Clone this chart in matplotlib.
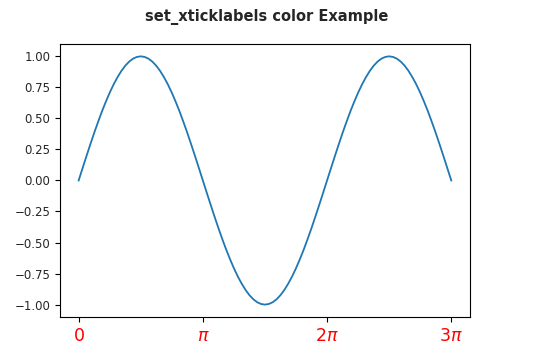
import matplotlib.pyplot as plt
import numpy as np

# readings of the curve, taken every pi/32 from 0 to 3*pi
y_values = [
    0.000, 0.098, 0.195, 0.290, 0.383, 0.471, 0.556, 0.634,
    0.707, 0.773, 0.831, 0.882, 0.924, 0.957, 0.981, 0.995,
    1.000, 0.995, 0.981, 0.957, 0.924, 0.882, 0.831, 0.773,
    0.707, 0.634, 0.556, 0.471, 0.383, 0.290, 0.195, 0.098,
    0.000, -0.098, -0.195, -0.290, -0.383, -0.471, -0.556, -0.634,
    -0.707, -0.773, -0.831, -0.882, -0.924, -0.957, -0.981, -0.995,
    -1.000, -0.995, -0.981, -0.957, -0.924, -0.882, -0.831, -0.773,
    -0.707, -0.634, -0.556, -0.471, -0.383, -0.290, -0.195, -0.098,
    0.000, 0.098, 0.195, 0.290, 0.383, 0.471, 0.556, 0.634,
    0.707, 0.773, 0.831, 0.882, 0.924, 0.957, 0.981, 0.995,
    1.000, 0.995, 0.981, 0.957, 0.924, 0.882, 0.831, 0.773,
    0.707, 0.634, 0.556, 0.471, 0.383, 0.290, 0.195, 0.098,
    0.000,
]
x_max = 3 * np.pi
tick_positions = [0, np.pi, 2 * np.pi, 3 * np.pi]
tick_labels = ['$0$', r'$\pi$', r'$2\pi$', r'$3\pi$']

x = np.linspace(0, x_max, len(y_values))

fig = plt.figure(figsize=(5.33, 3.57), dpi=100)
ax = fig.add_axes([0.1126, 0.112, 0.769, 0.765])

ax.plot(x, y_values, color='#1f77b4', linewidth=1.3)

ax.set_xticks(tick_positions)
ax.set_xticklabels(tick_labels, color='red', fontsize=12.5)
ax.tick_params(axis='y', labelsize=8.5, labelcolor='#262626')
ax.tick_params(axis='x', pad=4)

fig.suptitle('set_xticklabels color Example', fontweight='bold', fontsize=10.5,
             y=0.975, color='#262626')

fig.savefig('out.png', dpi=100)
